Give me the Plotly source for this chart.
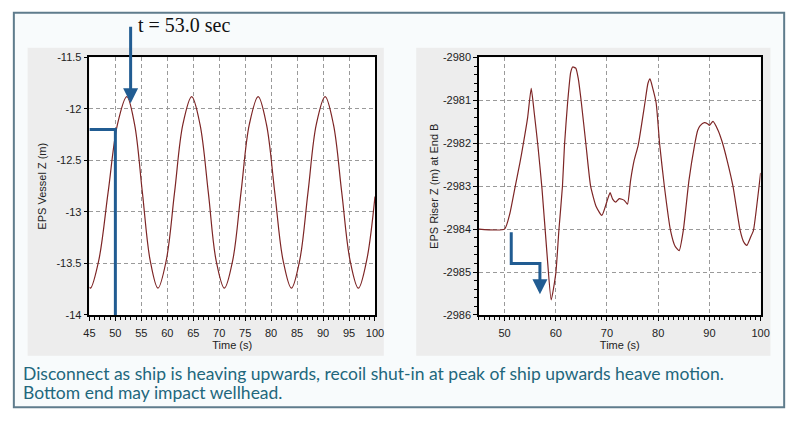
import plotly.graph_objects as go

# ---------------- data ----------------
vessel_t = [45.0, 45.2, 46.8, 48.6, 50.4, 52.2, 53.7, 55.2, 56.7, 58.2, 59.8, 61.4, 63.0, 64.7,
            66.3, 67.9, 69.4, 71.0, 72.6, 74.2, 75.8, 77.5, 79.1, 80.7, 82.3, 83.9, 85.5, 87.1,
            88.7, 90.4, 92.0, 93.6, 95.2, 96.8, 98.4, 100.0]
vessel_z = [-13.73, -13.74, -13.47, -12.81, -12.15, -11.88, -12.15, -12.81, -13.47, -13.74, -13.47,
            -12.81, -12.15, -11.88, -12.15, -12.81, -13.47, -13.74, -13.47, -12.81, -12.15, -11.88,
            -12.15, -12.81, -13.47, -13.74, -13.47, -12.81, -12.15, -11.88, -12.15, -12.81, -13.47,
            -13.74, -13.47, -12.85]

riser_t = [45.0, 50.0, 51.0, 52.0, 53.0, 53.6, 54.5, 55.2, 55.8, 56.5, 57.3, 58.3, 59.1, 60.0, 60.6,
           61.3, 61.7, 62.3, 62.9, 63.3, 63.9, 64.4, 65.0, 65.9, 66.8, 67.9, 69.0, 70.0, 70.6, 71.1,
           71.7, 72.4, 73.4, 74.0, 74.6, 75.3, 76.1, 77.4, 78.0, 78.4, 78.9, 79.6, 80.3, 81.2, 82.4,
           83.3, 84.1, 84.9, 86.0, 87.1, 87.7, 88.2, 89.0, 89.7, 90.0, 90.7, 91.7, 92.5, 93.5, 94.6,
           96.0, 96.7, 97.3, 98.0, 98.6, 99.6, 100.0]
riser_z = [-2984.0, -2984.0, -2983.65, -2983.05, -2982.45, -2982.05, -2981.4, -2980.72, -2981.3,
           -2982.05, -2983.05, -2984.6, -2985.65, -2985.03, -2984.03, -2983.0, -2982.04, -2981.06,
           -2980.35, -2980.22, -2980.25, -2980.5, -2981.06, -2982.04, -2983.0, -2983.48, -2983.68,
           -2983.35, -2983.15, -2983.3, -2983.37, -2983.29, -2983.33, -2983.42, -2982.87, -2982.4,
           -2982.04, -2981.06, -2980.6, -2980.5, -2980.7, -2981.06, -2982.04, -2983.0, -2984.03,
           -2984.4, -2984.5, -2984.03, -2982.87, -2982.04, -2981.7, -2981.59, -2981.52, -2981.55,
           -2981.58, -2981.49, -2981.7, -2981.97, -2982.42, -2983.0, -2984.03, -2984.3, -2984.38,
           -2984.2, -2984.03, -2983.1, -2982.69]

left_xticks = [45, 50, 55, 60, 65, 70, 75, 80, 85, 90, 95, 100]
left_yticks = [-14, -13.5, -13, -12.5, -12, -11.5]
right_xticks = [50, 60, 70, 80, 90, 100]
right_yticks = [-2986, -2985, -2984, -2983, -2982, -2981, -2980]

marker_t = 50.0          # disconnect time line on left chart
marker_z = -12.2
caption_lines = ["Disconnect as ship is heaving upwards, recoil shut-in at peak of ship upwards heave motion.",
                 "Bottom end may impact wellhead."]

# ---------------- layout helpers ----------------
W, H = 802, 422
def px(x): return x / W
def py(y): return 1 - y / H

LINE = "#7d2525"
BLUE = "#215c92"
GRID = "#9a9a9a"
AFONT = "Liberation Sans"

def lab(v):
    s = f"{v:g}"
    return s.replace("\u2212", "-")

fig = go.Figure()
fig.add_trace(go.Scatter(x=vessel_t, y=vessel_z, mode="lines", line=dict(color=LINE, width=1.2, shape="spline", smoothing=1.0),
                         xaxis="x", yaxis="y", showlegend=False, hoverinfo="skip"))
fig.add_trace(go.Scatter(x=riser_t, y=riser_z, mode="lines", line=dict(color=LINE, width=1.2, shape="spline", smoothing=0.5),
                         xaxis="x2", yaxis="y2", showlegend=False, hoverinfo="skip"))

tickfont = dict(family=AFONT, size=11, color="#222")
titlefont = dict(family=AFONT, size=11, color="#222")
axis_common = dict(showline=True, mirror=True, linecolor="black", linewidth=1.5,
                   ticks="outside", ticklen=4, tickcolor="black", tickfont=tickfont,
                   showgrid=True, gridcolor=GRID, griddash="4px,3px", gridwidth=1, zeroline=False)

fig.update_layout(
    width=W, height=H, autosize=False,
    margin=dict(l=0, r=0, t=0, b=0),
    paper_bgcolor="white", plot_bgcolor="rgba(0,0,0,0)",
    xaxis=dict(domain=[px(85), px(376)], range=[45, 100], tickvals=left_xticks,
               ticktext=[lab(v) for v in left_xticks], anchor="y", ticklabelstandoff=3,
               minor=dict(dtick=1, ticklen=3, tickcolor="black", ticks="outside", showgrid=False),
               title=dict(text="Time (s)", font=titlefont, standoff=3),
               **axis_common),
    yaxis=dict(domain=[py(318), py(53)], range=[-14, -11.5], tickvals=left_yticks,
               ticktext=[lab(v) for v in left_yticks], anchor="x",
               title=dict(text="EPS Vessel Z (m)", font=titlefont, standoff=8),
               **axis_common),
    xaxis2=dict(domain=[px(482), px(769)], range=[45, 100], tickvals=right_xticks,
                ticktext=[lab(v) for v in right_xticks], anchor="y2", ticklabelstandoff=3,
                minor=dict(dtick=1, ticklen=3, tickcolor="black", ticks="outside", showgrid=False),
                title=dict(text="Time (s)", font=titlefont, standoff=3),
                **axis_common),
    yaxis2=dict(domain=[py(318), py(53)], range=[-2986, -2980], tickvals=right_yticks,
                ticktext=[lab(v) for v in right_yticks], anchor="x2",
                minor=dict(dtick=0.2, ticklen=3, tickcolor="black", ticks="outside", showgrid=False),
                title=dict(text="EPS Riser Z (m) at End B", font=titlefont, standoff=2),
                **axis_common),
)

shapes = [
    # outer frame
    dict(type="rect", xref="paper", yref="paper", x0=px(8), x1=px(793), y0=py(413), y1=py(7),
         line=dict(color="#5f7c8c", width=2), fillcolor="#f8fbfc", layer="below"),
    # grey chart panels
    dict(type="rect", xref="paper", yref="paper", x0=px(22), x1=px(385), y0=py(360), y1=py(43),
         line=dict(width=0), fillcolor="#ededed", layer="below"),
    dict(type="rect", xref="paper", yref="paper", x0=px(418), x1=px(779), y0=py(360), y1=py(43),
         line=dict(width=0), fillcolor="#ededed", layer="below"),
    # white plot areas
    dict(type="rect", xref="paper", yref="paper", x0=px(85), x1=px(376), y0=py(318), y1=py(53),
         line=dict(width=0), fillcolor="white", layer="below"),
    dict(type="rect", xref="paper", yref="paper", x0=px(482), x1=px(769), y0=py(318), y1=py(53),
         line=dict(width=0), fillcolor="white", layer="below"),
    # blue disconnect marker on left chart
    dict(type="path", xref="x", yref="y",
         path=f"M 45 {marker_z} L {marker_t} {marker_z} L {marker_t} -14",
         line=dict(color=BLUE, width=3)),
    # bent arrow on right chart
    dict(type="path", xref="x2", yref="y2",
         path="M 51.3 -2984.07 L 51.3 -2984.8 L 56.9 -2984.8 L 56.9 -2985.3",
         line=dict(color=BLUE, width=3)),
]
fig.update_layout(shapes=shapes)

annotations = [
    dict(xref="paper", yref="paper", x=px(127), y=py(100), ax=0, ay=-78, axref="pixel", ayref="pixel",
         showarrow=True, arrowhead=2, arrowsize=1, arrowwidth=3, arrowcolor=BLUE, text=""),
    dict(xref="paper", yref="paper", x=px(132), y=py(20), xanchor="left", yanchor="middle",
         text="t = 53.0 sec", showarrow=False,
         font=dict(family="Liberation Serif, DejaVu Serif", size=20, color="#111")),
    dict(xref="x2", yref="y2", x=56.9, y=-2985.52, ax=0, ay=-12, showarrow=True, arrowhead=2,
         arrowsize=1, arrowwidth=3, arrowcolor=BLUE, text=""),
]
for i, line in enumerate(caption_lines):
    annotations.append(dict(xref="paper", yref="paper", x=px(15), y=py(378 + 20 * i),
                            xanchor="left", yanchor="middle", align="left",
                            text=line, showarrow=False,
                            font=dict(family="Lato, Open Sans", size=17.5, color="#22677c")))
fig.update_layout(annotations=annotations)

fig.write_html("out.html")
